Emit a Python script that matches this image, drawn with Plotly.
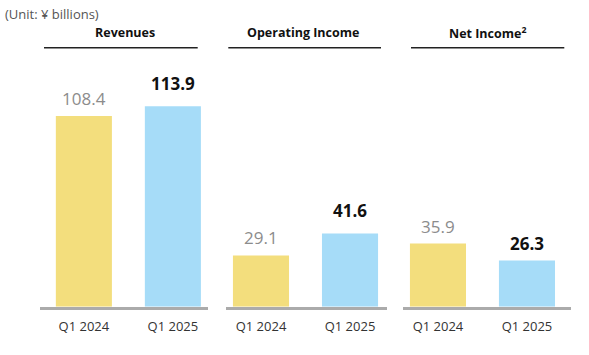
import plotly.graph_objects as go

W, H = 589, 355

# ---- data ----
periods = ["Q1 2024", "Q1 2025"]
panel_titles = ["Revenues", "Operating Income", "Net Income<sup>2</sup>"]
revenues = [108.4, 113.9]
operating_income = [29.1, 41.6]
net_income = [35.9, 26.3]
unit_label = "(Unit: ¥ billions)"

series = [revenues, operating_income, net_income]

# ---- style ----
bar_colors = ["#F3DE7D", "#A6DCF8"]
label_colors = ["#8C8C8C", "#111111"]
label_weights = ["normal", "bold"]
FONT = "Open Sans"

def px_x(p):
    return p / W

def px_y(p):
    return 1 - p / H

# panel geometry in pixels (axis-line extent, x-range)
panel_domains = [(40, 208.3), (226, 386.7), (403, 571.3)]
panel_ranges = [(-0.493, 1.398), (-0.393, 1.412), (-0.393, 1.498)]
y_domain = [px_y(306.7), px_y(60)]
y_max = 246.7 / 1.76
header_centers = [124.7, 303.3, 487.7]
header_lines = [(44, 197.7), (228.3, 381), (411, 564.3)]
label_offsets = [[17.7, 22.7], [17.7, 23.3], [17.0, 16.5]]

fig = go.Figure()
layout = dict(
    width=W, height=H,
    margin=dict(l=0, r=0, t=0, b=0),
    paper_bgcolor="white", plot_bgcolor="white",
    showlegend=False,
    font=dict(family=FONT, color="#333333"),
)

annotations = []
shapes = []

for i, vals in enumerate(series):
    sfx = "" if i == 0 else str(i + 1)
    xa, ya = "x" + sfx, "y" + sfx
    fig.add_trace(go.Bar(
        x=periods, y=vals, xaxis=xa, yaxis=ya,
        marker=dict(color=bar_colors, line=dict(width=0)),
        width=0.63, hoverinfo="skip",
    ))
    d0, d1 = panel_domains[i]
    layout["xaxis" + sfx] = dict(
        domain=[px_x(d0), px_x(d1)], anchor=ya, type="category",
        range=list(panel_ranges[i]),
        showline=True, linecolor="#ABABAB", linewidth=2.5,
        showgrid=False, zeroline=False, ticks="",
        tickfont=dict(family=FONT, size=13, color="#333333"),
        ticklabelstandoff=6,
    )
    layout["yaxis" + sfx] = dict(
        domain=y_domain, anchor=xa, range=[0, y_max],
        visible=False, showgrid=False, zeroline=False,
    )
    for j, v in enumerate(vals):
        annotations.append(dict(
            x=periods[j], y=v, xref=xa, yref=ya,
            text=f"<b>{v:.1f}</b>" if label_weights[j] == "bold" else f"{v:.1f}",
            showarrow=False, yanchor="middle", xanchor="center",
            yshift=label_offsets[i][j],
            font=dict(family=FONT, size=17, color=label_colors[j]),
        ))
    annotations.append(dict(
        x=px_x(header_centers[i]), y=px_y(33), xref="paper", yref="paper",
        text=f"<b>{panel_titles[i]}</b>", showarrow=False,
        xanchor="center", yanchor="middle",
        font=dict(family=FONT, size=12.5, color="#111111"),
    ))
    h0, h1 = header_lines[i]
    shapes.append(dict(
        type="line", xref="paper", yref="paper",
        x0=px_x(h0), x1=px_x(h1), y0=px_y(47.7), y1=px_y(47.7),
        line=dict(color="#222222", width=1.5),
    ))

annotations.append(dict(
    x=px_x(3), y=px_y(14), xref="paper", yref="paper",
    text=unit_label, showarrow=False, xanchor="left", yanchor="middle",
    font=dict(family=FONT, size=13, color="#555555"),
))

layout["annotations"] = annotations
layout["shapes"] = shapes
fig.update_layout(**layout)
fig.write_html(
    "out.html",
    config={"displayModeBar": False},
    post_script="document.body.style.margin='0';document.body.style.overflow='hidden';",
)
